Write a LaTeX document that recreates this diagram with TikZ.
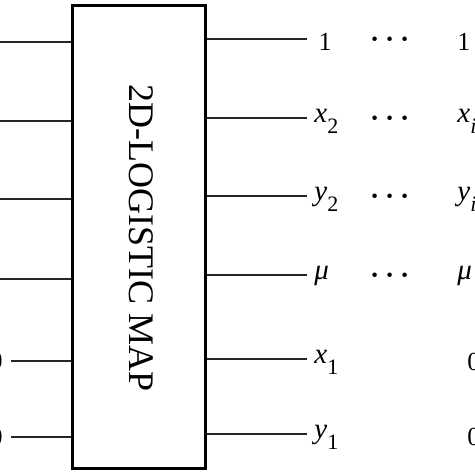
\documentclass[tikz,border=0pt]{standalone}
\usepackage{fontspec}
\setmainfont{Liberation Serif}
\usetikzlibrary{positioning}
\newcommand{\lbl}[2]{{\fontsize{14.5}{14.5}\selectfont\textit{#1}}\raisebox{-0.42em}{\fontsize{11}{11}\selectfont #2}}
\tikzset{
	wire/.style={line width=1pt, black!85},
	val/.style={anchor=west, inner sep=0pt, font=\fontsize{13}{13}\selectfont}
}
\begin{document}
\begin{tikzpicture}[x=0.5pt,y=-0.5pt]
	\useasboundingbox (0,0) rectangle (474,474);
	% the map block
	\node[draw, line width=1.4pt, minimum width=66.5pt, minimum height=231.5pt, inner sep=0pt] (map) at (139,237) {};
	\node[rotate=-90, font=\fontsize{18}{18}\selectfont] (title) at (141,238) {2D-LOGISTIC MAP};
	% inputs
	\foreach \y/\n in {42/a,121/b,199/c,279/d} {
		\coordinate (in\n) at (0,\y);
		\draw[wire] (in\n) -- (in\n -| map.west);
	}
	\foreach \y/\n in {361/e,437/f} {
		\node[anchor=east, inner sep=0pt, font=\fontsize{13}{13}\selectfont] (in\n) at (3,\y) {0};
		\draw[wire] ([xshift=4pt]in\n.east) -- (in\n.east -| map.west);
	}
	% outputs
	\foreach \y/\n/\lab/\far in {39/a/\,1/1, 118/b/\lbl{x}{2}/\lbl{x}{\textit{i}}, 196/c/\lbl{y}{2}/\lbl{y}{\textit{i}}, 275/d/\lbl{μ}{}/\lbl{μ}{}} {
		\coordinate (out\n) at (307,\y);
		\draw[wire] (out\n -| map.east) -- (out\n);
		\node[val] (val\n) at (314,\y+3) {\lab};
		\node[font=\fontsize{15}{15}\selectfont\boldmath] (dots\n) at (390,\y+1) {$\cdots$};
		\node[val] (last\n) at (457,\y+3) {\far};
	}
	\foreach \y/\n/\lab in {359/e/\lbl{x}{1}, 434/f/\lbl{y}{1}} {
		\coordinate (out\n) at (307,\y);
		\draw[wire] (out\n -| map.east) -- (out\n);
		\node[val] (val\n) at (314,\y+3) {\lab};
		\node[val] (last\n) at (467,\y+3) {0};
	}
\end{tikzpicture}
\end{document}
